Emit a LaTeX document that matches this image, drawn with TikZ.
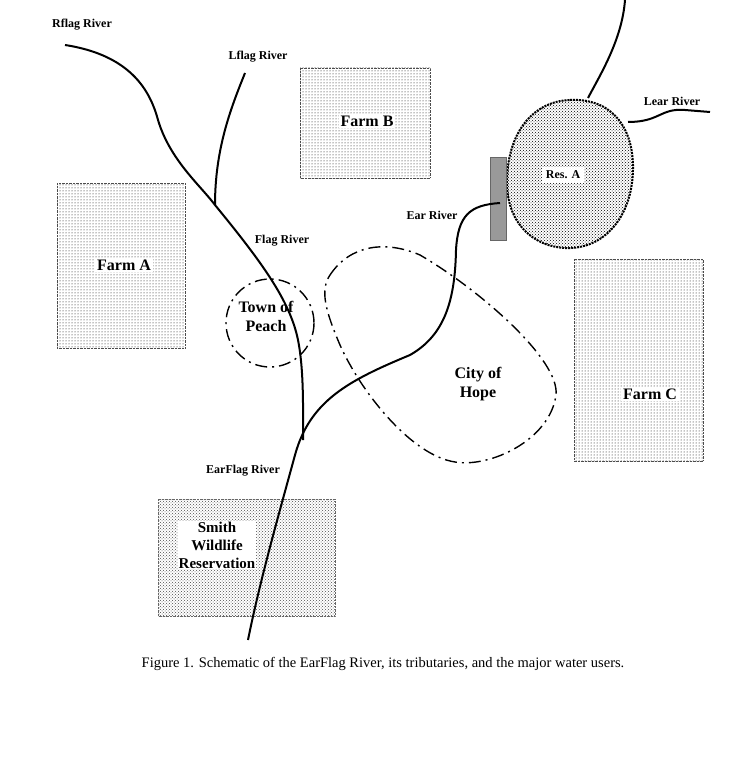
\documentclass[tikz,border=0pt]{standalone}
\usepackage{fontspec}
\setmainfont{Liberation Serif}
\usetikzlibrary{patterns}
\begin{document}
\begin{tikzpicture}[x=1pt,y=-1pt,
  farm/.style={draw=black!70,densely dotted,pattern=dots,pattern color=black},
  lbl/.style={fill=white,font=\bfseries\fontsize{16}{18}\selectfont,inner sep=2pt,align=center},
  rlbl/.style={font=\bfseries\fontsize{12}{14}\selectfont,inner sep=1pt},
  river/.style={line width=2pt},
  dd/.style={dash pattern=on 12pt off 5pt on 2pt off 5pt,line width=1.4pt}]
\useasboundingbox (0,0) rectangle (742,773);
% farms
\path[farm] (57,183) rectangle (185,348);
\node[lbl] (fa) at (124,265) {Farm A};
\path[farm] (300,68) rectangle (430,178);
\node[lbl] (fb) at (367,121) {Farm B};
\path[farm] (574,259) rectangle (703,461);
\node[lbl] (fc) at (650,394) {Farm C};
% Smith
\path[draw=black!60,densely dotted,pattern=crosshatch dots,pattern color=black!70] (158,499) rectangle (335,616);
\node[lbl,fill=white,font=\bfseries\fontsize{15}{18}\selectfont,inner sep=1pt] (sw) at (217,545) {Smith\\Wildlife\\Reservation};
% reservoir
\path[draw=black,densely dotted,line width=2pt,pattern=crosshatch dots,pattern color=black]
  (570,100) .. controls (610,98) and (632,125) .. (633,165)
  .. controls (634,215) and (605,250) .. (565,248)
  .. controls (530,246) and (506,220) .. (507,180)
  .. controls (508,130) and (535,101) .. (570,100) -- cycle;
\node[fill=white,font=\bfseries\fontsize{12}{14}\selectfont,inner sep=4pt] (ra) at (563,175) {Res. A};
\draw[fill=gray!80,draw=black!60] (490,157) rectangle (506,240);
% town of peach
\draw[dd] (270,323) circle (44);
\node[font=\bfseries\fontsize{16}{19}\selectfont,align=center,inner sep=0pt] (tp) at (266,316) {Town of\\Peach};
% city of hope
\draw[dd] (330,275) .. controls (350,245) and (385,240) .. (420,255)
  .. controls (480,290) and (560,360) .. (556,395)
  .. controls (550,440) and (490,468) .. (455,462)
  .. controls (410,455) and (360,390) .. (340,345)
  .. controls (325,310) and (320,290) .. (330,275) -- cycle;
\node[font=\bfseries\fontsize{16}{19}\selectfont,align=center] (ch) at (478,384) {City of\\Hope};
% rivers
\coordinate (j) at (303,440);
\draw[river] (65,45) .. controls (130,55) and (150,90) .. (158,120)
  .. controls (170,160) and (200,185) .. (215,205)
  .. controls (260,260) and (290,300) .. (298,340)
  .. controls (304,370) and (303,410) .. (j);
\draw[river] (245,73) .. controls (230,110) and (215,150) .. (215,205);
\draw[river] (500,203) .. controls (470,205) and (458,215) .. (456,250)
  .. controls (455,300) and (445,335) .. (410,355)
  .. controls (350,380) and (310,400) .. (295,455)
  .. controls (280,510) and (260,580) .. (248,640);
\draw[river] (625,0) .. controls (622,40) and (600,75) .. (588,98);
\draw[river] (628,122) .. controls (660,122) and (660,108) .. (685,110) -- (710,112);
% labels
\node[rlbl] (l1) at (82,25) {Rflag River};
\node[rlbl] (l2) at (258,57) {Lflag River};
\node[rlbl] (l3) at (282,241) {Flag River};
\node[rlbl] (l4) at (432,215) {Ear River};
\node[rlbl] (l5) at (672,101) {Lear River};
\node[rlbl] (l6) at (243,471) {EarFlag River};
\node[font=\fontsize{14.5}{17}\selectfont] (cap) at (383,664) {Figure 1. Schematic of the EarFlag River, its tributaries, and the major water users.};
\end{tikzpicture}
\end{document}
